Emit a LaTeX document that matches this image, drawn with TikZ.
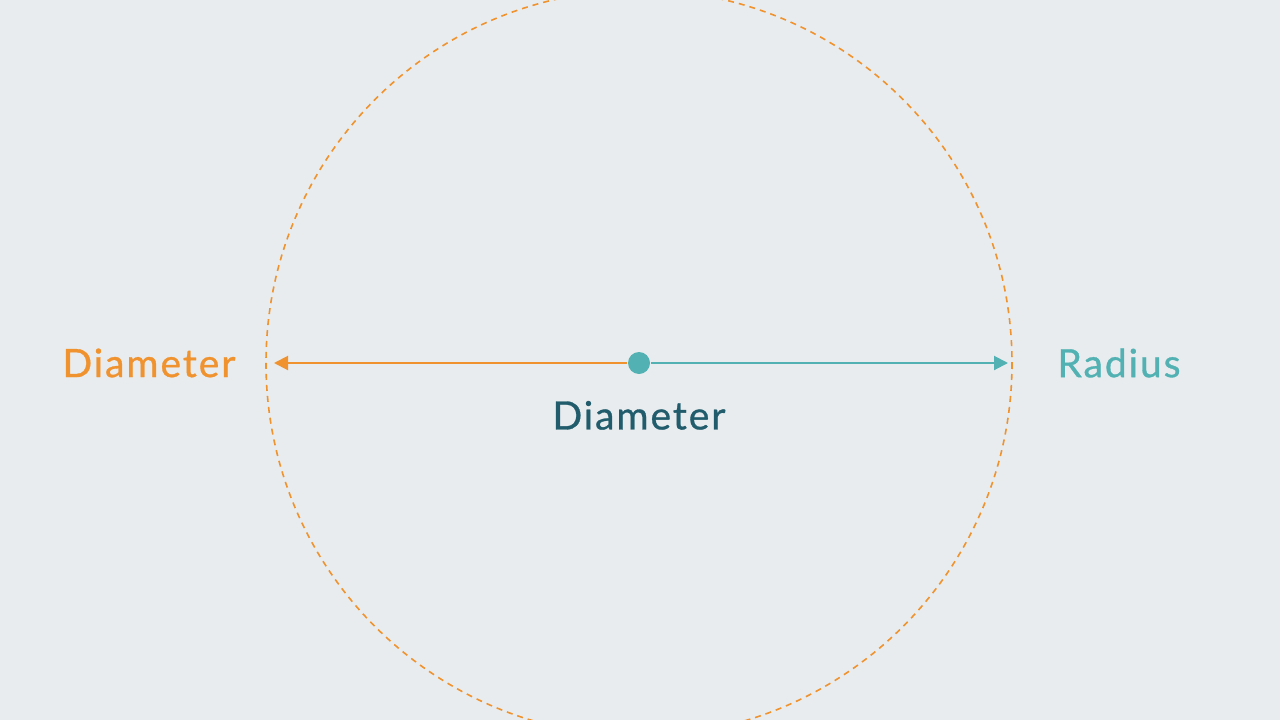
\documentclass[tikz,border=0pt]{standalone}
\usepackage{fontspec}
\setmainfont{Lato}[LetterSpace=5,FakeBold=0.8]
\usepackage{xcolor}
\usepackage{tikz}
\usetikzlibrary{arrows.meta,positioning}
\definecolor{bg}{HTML}{E9ECEE}
\definecolor{orng}{HTML}{F0922E}
\definecolor{teal2}{HTML}{52B2B3}
\definecolor{dteal}{HTML}{215C6C}

\begin{document}
\begin{tikzpicture}[x=1pt,y=-1pt,line width=2pt,
  lbl/.style={font=\fontsize{39}{42}\selectfont,inner sep=0pt}]
\useasboundingbox (0,0) rectangle (1280,720);
\fill[bg] (0,0) rectangle (1280,720);
\clip (0,0) rectangle (1280,720);
\draw[orng,dashed,dash pattern=on 6pt off 5pt,line width=1.6pt] (639,363) circle (373);
\coordinate (L) at (274,363);
\coordinate (R) at (1008,363);
\node[circle,fill=teal2,minimum size=22pt,inner sep=0pt] (C) at (639,363) {};
\node[lbl,text=orng] (dl) at (149,363) {Diameter};
\node[lbl,text=teal2] (rl) at (1119,363) {Radius};
\node[lbl,text=dteal,below=25pt of C] (dc) {Diameter};

\path[draw=orng,-{Triangle[length=14pt,width=14pt]}] (C) -- (L);
\path[draw=teal2,-{Triangle[length=14pt,width=14pt]}] (C) -- (R);

\end{tikzpicture}
\end{document}
